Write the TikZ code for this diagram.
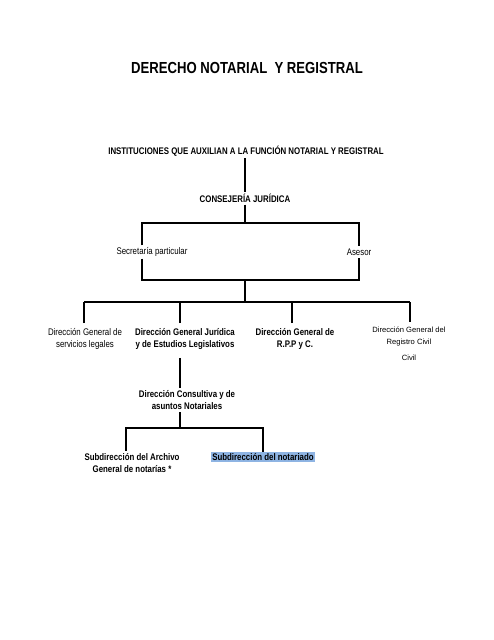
\documentclass[tikz,border=0pt]{standalone}
\usepackage{fontspec}
\usepackage{xcolor}
\usepackage{tikz}
\usetikzlibrary{calc}
\setmainfont{Liberation Sans}
\newfontfamily\narrowfont[FakeStretch=0.82]{Liberation Sans}
\definecolor{hlblue}{RGB}{142,180,227}

\begin{document}
\begin{tikzpicture}[x=1pt,y=-1pt,
    conn/.style={line width=1.7pt,black},
    headtxt/.style={font=\narrowfont\bfseries\fontsize{16}{18}\selectfont},
    boldtxt/.style={font=\narrowfont\bfseries\fontsize{9.6}{12.5}\selectfont,align=center,inner sep=2pt},
    plaintxt/.style={font=\narrowfont\fontsize{9.6}{12.5}\selectfont,align=center,inner sep=2pt},
    smalltxt/.style={font=\fontsize{7.6}{12}\selectfont,align=center,inner sep=2pt}]
    \useasboundingbox (0,0) rectangle (494,640);
    \node[headtxt] (title) at (247,68) {DERECHO NOTARIAL\ \ Y REGISTRAL};
    \node[boldtxt] (inst) at (246,151) {INSTITUCIONES QUE AUXILIAN A LA FUNCIÓN NOTARIAL Y REGISTRAL};
    \node[boldtxt] (consej) at (245,198) {CONSEJERÍA JURÍDICA};
    \node[plaintxt] (secre) at (152,252) {Secretaría particular};
    \node[plaintxt] (asesor) at (359,252) {Asesor};
    % fila de direcciones
    \node[plaintxt] (dgsl) at (85,339) {Dirección General de\\servicios legales};
    \node[boldtxt] (dgj) at (185,339) {Dirección General Jurídica\\y de Estudios Legislativos};
    \node[boldtxt] (dgr) at (295,339) {Dirección General de\\R.P.P y C.};
    \node[smalltxt] (dgrc) at (409,344) {Dirección General del\\Registro Civil\\[4pt]Civil};
    \node[boldtxt] (dcan) at (187,400) {Dirección Consultiva y de\\asuntos Notariales};
    \node[boldtxt] (sag) at (132,463) {Subdirección del Archivo\\General de notarías *};
    \node[boldtxt,fill=hlblue,inner ysep=1.5pt,inner xsep=1pt] (snot) at (263,457) {Subdirección del notariado};
    \coordinate (upL) at (142,223);
    \coordinate (upR) at (359,223);
    \coordinate (loL) at (142,280);
    \coordinate (loR) at (359,280);
    \coordinate (barA) at (84,302);
    \coordinate (barB) at (410,302);
    \coordinate (barC) at (126,428);
    \coordinate (barD) at (263,428);
    \draw[conn] (consej.north) -- (consej.north |- inst.south);
    \draw[conn] (consej.south) -- (consej.south |- upL);
    \draw[conn] (upL |- secre.north) |- (upR) -- (upR |- asesor.north);
    \draw[conn] (loL |- secre.south) |- (loR) -- (loR |- asesor.south);
    \draw[conn] (consej |- loL) -- (consej |- barA);
    \draw[conn] (barA) -- (barB);
    \foreach \n/\dx in {dgsl/-1,dgj/-5,dgr/-3,dgrc/1}{
      \draw[conn] ([xshift=\dx pt,yshift=3pt]\n.north) -- ([xshift=\dx pt]\n.north |- barA);
      }
    \draw[conn] ([xshift=-5pt,yshift=-6pt]dgj.south) -- ([xshift=-5pt]dgj.south |- dcan.north);
    \draw[conn] ([xshift=-7pt]dcan.south) -- ([xshift=-7pt]dcan.south |- barC);
    \draw[conn] (sag.north -| barC) |- (barD) -- (snot.north);
  \end{tikzpicture}
\end{document}
